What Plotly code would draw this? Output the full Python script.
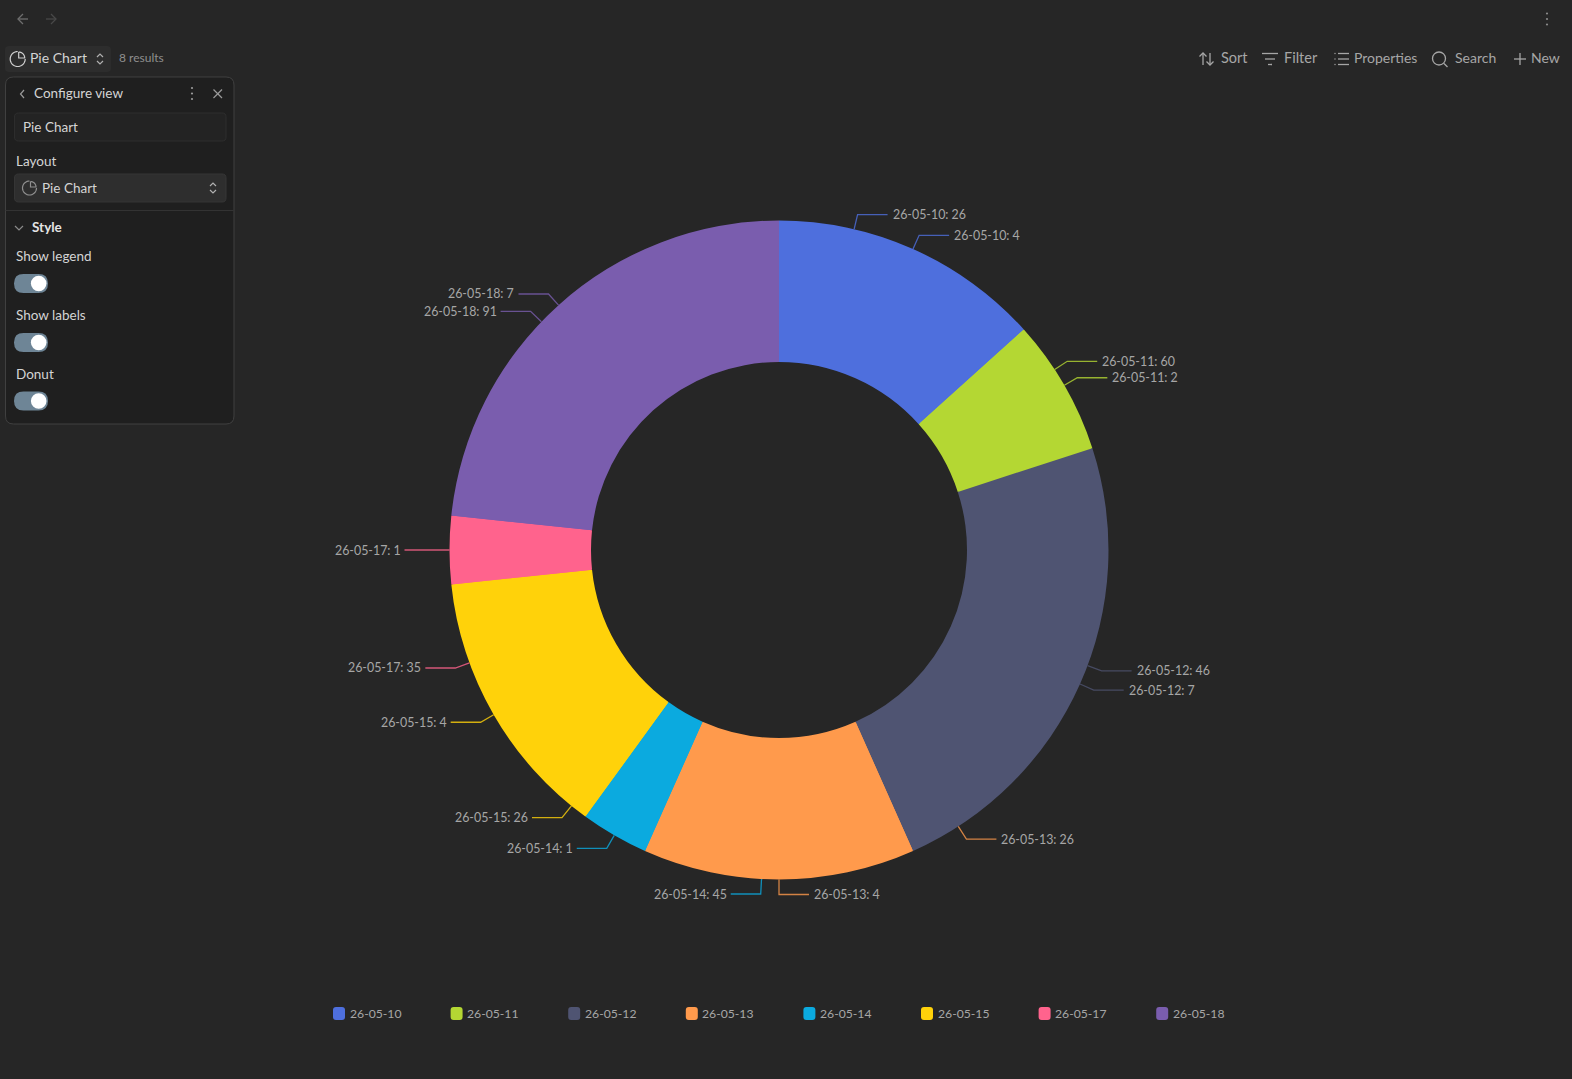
import math
import plotly.graph_objects as go

W = 1572
H = 1079

dates = ['26-05-10', '26-05-11', '26-05-12', '26-05-13', '26-05-14', '26-05-15', '26-05-17', '26-05-18']
outer_values = [26, 60, 46, 26, 45, 26, 35, 91]
inner_values = [4, 2, 7, 4, 1, 4, 1, 7]
colors = ['#4e6fdd', '#b4d733', '#4f5472', '#ff9a4c', '#0baadf', '#ffd20a', '#ff638d', '#7a5dae']

BG = '#262626'
PANEL = '#1f1f1f'
TEXT = '#d4d4d4'
MUTED = '#a6a6a6'
FONT = 'Lato'

CX = 779
CY = 550
R = 329.5
HOLE = 188

shapes = []
annotations = []


def px(x):
    return x / W


def py(y):
    return 1 - y / H


def pts(points):
    return 'M' + 'L'.join('%.5f,%.5f' % (px(x), py(y)) for x, y in points)


def add_path(path, color=None, fill=None, width=1, opacity=1):
    shapes.append(dict(type='path', xref='paper', yref='paper', path=path, opacity=opacity,
                       fillcolor=fill if fill else 'rgba(0,0,0,0)',
                       line=dict(color=color if color else 'rgba(0,0,0,0)', width=width)))


def add_line(points, color, width=1.3, opacity=1):
    add_path(pts(points), color=color, width=width, opacity=opacity)


def rrect(x0, y0, x1, y1, r):
    p = lambda x, y: '%.5f,%.5f' % (px(x), py(y))
    return ('M' + p(x0 + r, y0) + 'L' + p(x1 - r, y0) + 'Q' + p(x1, y0) + ' ' + p(x1, y0 + r)
            + 'L' + p(x1, y1 - r) + 'Q' + p(x1, y1) + ' ' + p(x1 - r, y1)
            + 'L' + p(x0 + r, y1) + 'Q' + p(x0, y1) + ' ' + p(x0, y1 - r)
            + 'L' + p(x0, y0 + r) + 'Q' + p(x0, y0) + ' ' + p(x0 + r, y0) + 'Z')


def add_circle(x, y, r, color=None, fill=None, width=1.3):
    shapes.append(dict(type='circle', xref='paper', yref='paper',
                       x0=px(x - r), x1=px(x + r), y0=py(y + r), y1=py(y - r),
                       fillcolor=fill if fill else 'rgba(0,0,0,0)',
                       line=dict(color=color if color else 'rgba(0,0,0,0)', width=width)))


def add_text(x, y, text, color=TEXT, size=13.5, anchor='left', font=FONT):
    annotations.append(dict(x=px(x), y=py(y), xref='paper', yref='paper', text=text, showarrow=False,
                            xanchor=anchor, yanchor='middle', borderpad=0,
                            font=dict(family=font, size=size, color=color)))


# pie leader lines and labels, worked out from the slice mid angles
def add_labels(values):
    total = sum(values)
    before = 0
    for date, value, color in zip(dates, values, colors):
        angle = 2 * math.pi * (before + value / 2) / total
        before += value
        s, c = math.sin(angle), math.cos(angle)
        start = (CX + R * s, CY - R * c)
        elbow = (CX + (R + 15) * s, CY - (R + 15) * c)
        side = 1 if s >= -1e-9 else -1
        end = (elbow[0] + side * 30, elbow[1])
        add_line([start, elbow, end], color, opacity=0.8)
        gap = 4 if side > 0 else 3
        add_text(end[0] + side * gap, end[1], '%s: %d' % (date, value), color=MUTED, size=12.4,
                 anchor='left' if side > 0 else 'right')


add_labels(outer_values)
add_labels(inner_values)

# legend
for i, (date, color) in enumerate(zip(dates, colors)):
    x = 333 + i * 117.6
    add_path(rrect(x, 1007, x + 12, 1020, 3), fill=color)
    add_text(x + 15.5, 1013.5, date, color=MUTED, size=12.2)


def pie_icon(x, y, r, color):
    arc = [(x + r * math.cos(math.radians(a)), y + r * math.sin(math.radians(a))) for a in range(0, 271, 10)]
    add_line(arc, color, 1.2)
    q = r - 1.5
    wedge = [(x + 1, y - 1 - q)]
    wedge += [(x + 1 + q * math.cos(math.radians(a)), y - 1 + q * math.sin(math.radians(a))) for a in range(-80, 1, 10)]
    wedge += [(x + 1, y - 1), (x + 1, y - 1 - q)]
    add_line(wedge, color, 1.2)


def updown(x, y, color):
    add_line([(x - 3, y - 2), (x, y - 5), (x + 3, y - 2)], color, 1.2)
    add_line([(x - 3, y + 2), (x, y + 5), (x + 3, y + 2)], color, 1.2)


def dots(x, y, color):
    for d in (-5.5, 0, 5.5):
        add_circle(x, y + d, 1.1, fill=color, width=0)


def toggle(y):
    add_path(rrect(14, y - 9.5, 48, y + 9.5, 9.5), fill='#6e8596')
    add_circle(38.7, y, 7.8, fill='#ffffff', width=0)


# top bar
add_line([(28, 19), (18, 19)], '#6e6e6e', 1.3)
add_line([(23, 14), (18, 19), (23, 24)], '#6e6e6e', 1.3)
add_line([(46, 19), (56, 19)], '#484848', 1.3)
add_line([(51, 14), (56, 19), (51, 24)], '#484848', 1.3)
dots(1547, 19, '#8a8a8a')

add_path(rrect(5, 46, 111, 72, 4), fill='#2d2d2d')
pie_icon(17.7, 59, 7.5, '#d0d0d0')
add_text(29, 57.5, 'Pie Chart', size=14)
updown(100, 59, '#b0b0b0')
add_text(117.5, 57.5, '8 results', color='#8e8e8e', size=12)

# toolbar on the right
add_line([(1203, 65), (1203, 53)], MUTED)
add_line([(1199.5, 56.5), (1203, 53), (1206.5, 56.5)], MUTED)
add_line([(1210, 53), (1210, 65)], MUTED)
add_line([(1206.5, 61.5), (1210, 65), (1213.5, 61.5)], MUTED)
add_text(1219.5, 57.5, 'Sort', color=MUTED, size=14.5)
add_line([(1262, 53.5), (1278, 53.5)], MUTED)
add_line([(1265, 59), (1275, 59)], MUTED)
add_line([(1268, 64.5), (1272, 64.5)], MUTED)
add_text(1283, 57.5, 'Filter', color=MUTED, size=14.5)
for y in (53.5, 59, 64.5):
    add_line([(1338, y), (1349, y)], MUTED)
    add_circle(1335, y, 0.7, fill=MUTED, width=0)
add_text(1353, 57.5, 'Properties', color=MUTED, size=14)
add_circle(1439, 58.5, 6.5, color=MUTED)
add_line([(1444, 63.5), (1447.5, 67)], MUTED)
add_text(1453.5, 57.5, 'Search', color=MUTED, size=14)
add_line([(1514, 59), (1526, 59)], MUTED)
add_line([(1520, 53), (1520, 65)], MUTED)
add_text(1530, 57.5, 'New', color=MUTED, size=14)

# configure view panel
add_path(rrect(5.5, 77, 234, 424, 8), color='#404040', fill=PANEL, width=1)
add_line([(24, 90), (20.5, 94), (24, 98)], '#9a9a9a', 1.2)
add_text(32.5, 93, 'Configure view')
dots(192, 93.5, '#9a9a9a')
add_line([(213.5, 89.5), (222, 98)], '#9a9a9a', 1.2)
add_line([(222, 89.5), (213.5, 98)], '#9a9a9a', 1.2)
add_path(rrect(14.5, 113, 226, 141, 4), color='#2e2e2e', fill='#232323', width=1)
add_text(21.5, 126.5, 'Pie Chart')
add_text(14.5, 161, 'Layout')
add_path(rrect(14.5, 174, 226, 202, 4), color='#363636', fill='#2e2e2e', width=1)
pie_icon(29.5, 188, 7, '#8f8f8f')
add_text(40.5, 187.5, 'Pie Chart')
updown(213, 188, '#b0b0b0')
add_line([(5.5, 210.5), (234, 210.5)], '#333333', 1)
add_line([(15, 226), (19, 230), (23, 226)], '#8a8a8a', 1.2)
add_text(30.5, 227, '<b>Style</b>', color='#e4e4e4')
add_text(15, 255.5, 'Show legend')
toggle(283.5)
add_text(15, 314.5, 'Show labels')
toggle(342.5)
add_text(15, 373.5, 'Donut')
toggle(401)


def pie_domain(r):
    return dict(x=[px(CX - r), px(CX + r)], y=[py(CY + r), py(CY - r)])


fig = go.Figure()
# the first pie sits under the second, a hair smaller so its edge does not bleed through
fig.add_trace(go.Pie(labels=dates, values=outer_values, domain=pie_domain(R - 1), hole=(HOLE + 1) / (R - 1),
                     sort=False, direction='clockwise', rotation=0, textinfo='none',
                     marker=dict(colors=colors, line=dict(width=0)), showlegend=False))
fig.add_trace(go.Pie(labels=dates, values=inner_values, domain=pie_domain(R), hole=HOLE / R,
                     sort=False, direction='clockwise', rotation=0, textinfo='none',
                     marker=dict(colors=colors, line=dict(width=0)), showlegend=False))

fig.update_layout(width=W, height=H, autosize=False, margin=dict(l=0, r=0, t=0, b=0, pad=0),
                  paper_bgcolor=BG, plot_bgcolor=BG, font=dict(family=FONT, color=MUTED),
                  shapes=shapes, annotations=annotations, showlegend=False)

fig.write_html("out.html", config=dict(displayModeBar=False),
               post_script="document.body.style.margin='0';document.body.style.overflow='hidden';document.body.style.background='%s';" % BG)
